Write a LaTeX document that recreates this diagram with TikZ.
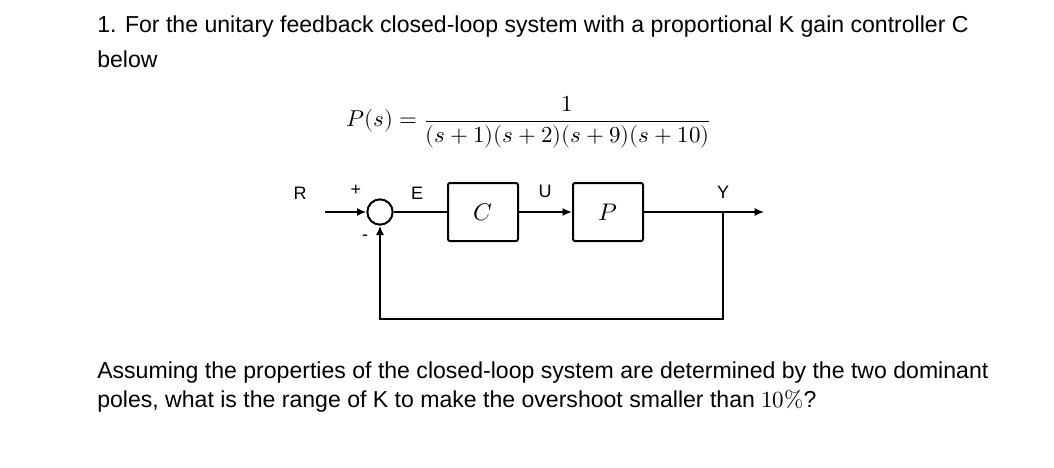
\documentclass[tikz,border=0pt]{standalone}
\usepackage{fontspec}
\setmainfont{Liberation Sans}
\usepackage{unicode-math}
\setmathfont{Latin Modern Math}
\usetikzlibrary{arrows.meta}
\begin{document}
\begin{tikzpicture}[x=0.75pt,y=-0.75pt,
  txt/.style={font=\fontsize{17.3}{20}\selectfont,anchor=west,inner sep=0},
  lbl/.style={font=\fontsize{13.5}{15}\selectfont,inner sep=0},
  blk/.style={draw,line width=1.5pt,rounded corners=1.5pt,minimum width=52.5pt,minimum height=43.5pt,font=\fontsize{18}{20}\selectfont},
  sig/.style={line width=1.5pt},
  >={Latex[length=7pt,width=6pt]}]
\useasboundingbox (0,0) rectangle (1054,468);
\node[txt] (t1) at (97,27) {1. For the unitary feedback closed-loop system with a proportional K gain controller C};
\node[txt] (t2) at (97,59) {below};
\node[inner sep=0,font=\fontsize{17.2}{20}\selectfont] (pf) at (529,122) {$P(s)=\dfrac{1}{(s+1)(s+2)(s+9)(s+10)}$};
\node[draw,circle,line width=1.5pt,minimum size=19pt,inner sep=0] (sum) at (380,212) {};
\coordinate (r) at (325,212);
\node[blk] (c) at (483,212) {$C$};
\node[blk] (p) at (608,212) {$P$};
\coordinate (br) at (723,212);
\coordinate (out) at (764,212);
\coordinate (bl) at (380,319);
\coordinate (bb) at (723,319);
\draw[sig,->] (r) -- (sum);
\draw[sig] (sum) -- (c);
\draw[sig,->] (c) -- (p);
\draw[line width=1pt,->] (p) -- (out);
\draw[sig,->] (br) -- (bb) -- (bl) -- (sum);
\node[lbl] (lr) at (300,193) {R};
\node[lbl] (lp) at (356,190) {+};
\node[lbl] (lm) at (365,238) {-};
\node[lbl] (le) at (417,193) {E};
\node[lbl] (lu) at (545,191) {U};
\node[lbl] (ly) at (723,192) {Y};
\node[txt] (t3) at (97,373) {Assuming the properties of the closed-loop system are determined by the two dominant};
\node[txt] (t4) at (97,401) {poles, what is the range of K to make the overshoot smaller than $10\%$?};
\end{tikzpicture}
\end{document}
